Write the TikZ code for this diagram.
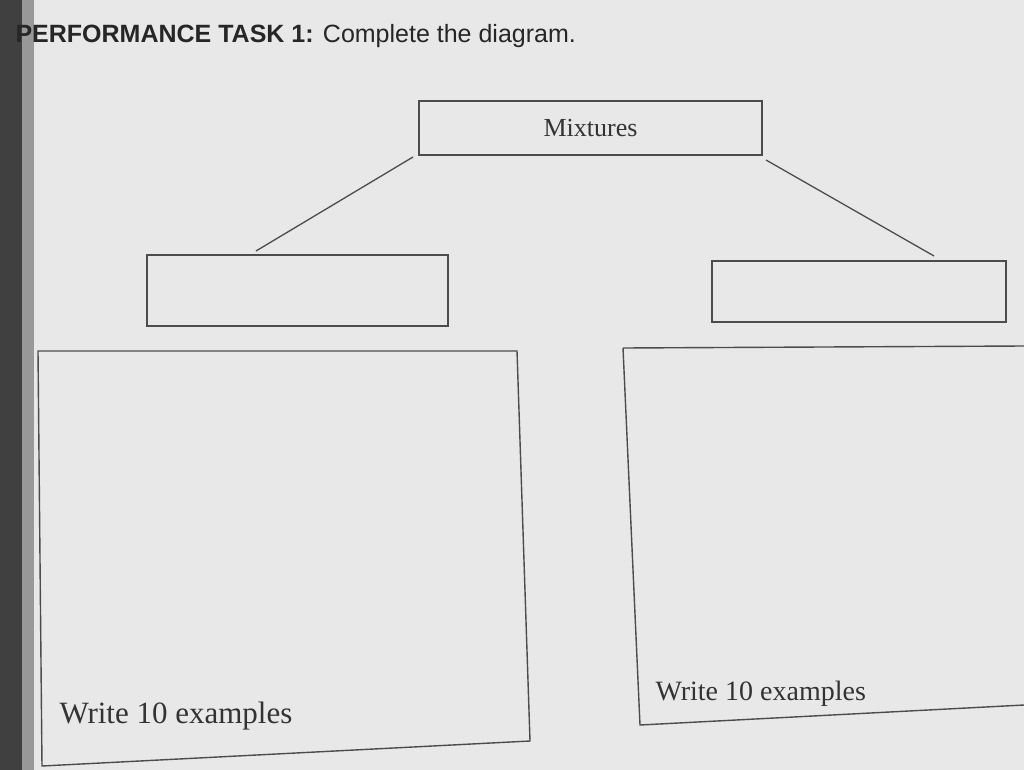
\documentclass[tikz,border=0pt]{standalone}
\usepackage{fontspec}
\setmainfont{Liberation Serif}
\newfontfamily\titlefont{Liberation Sans}
\begin{document}
\begin{tikzpicture}[x=1pt,y=-1pt,
  box/.style={draw=black!70,line width=1.4pt},
  link/.style={draw=black!70,line width=1.3pt}]
\useasboundingbox (0,0) rectangle (1024,770);
\fill[black!9] (0,0) rectangle (1024,770);
\fill[black!75] (0,0) rectangle (22,770);
\fill[black!40] (22,0) rectangle (34,770);
\node[anchor=west,font=\titlefont\fontsize{25}{28}\selectfont,text=black!85] (title) at (12,36) {\textbf{PERFORMANCE TASK 1:} Complete the diagram.};
\node[box,minimum width=343pt,minimum height=54pt,font=\fontsize{26}{30}\selectfont,text=black!80] (mix) at (590.5,128) {Mixtures};
\node[box,minimum width=301pt,minimum height=71pt] (left) at (297.5,290.5) {};
\node[box,minimum width=294pt,minimum height=61pt] (right) at (859,291.5) {};
\draw[box] (38,351) -- (517,351) -- (530,741) -- (42,766) -- cycle;
\draw[box] (623,348) -- (1024,346);
\draw[box] (623,348) -- (640,725) -- (1024,705);
\node[anchor=west,font=\fontsize{31}{34}\selectfont,text=black!80] (w1) at (56,716) {Write 10 examples};
\node[anchor=west,font=\fontsize{28}{32}\selectfont,text=black!80] (w2) at (652,694) {Write 10 examples};
\coordinate (a1) at (413,157); \coordinate (a2) at (256,251);
\coordinate (b1) at (766,160); \coordinate (b2) at (934,256);
\draw[link] (a1) -- (a2);
\draw[link] (b1) -- (b2);
\end{tikzpicture}
\end{document}
